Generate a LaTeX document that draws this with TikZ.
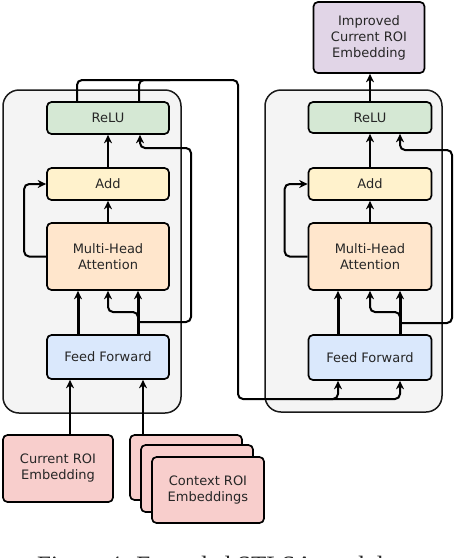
\documentclass[tikz,border=0pt]{standalone}
\usepackage{fontspec}
\setsansfont{DejaVu Sans}
\setmainfont{Liberation Serif}
\usetikzlibrary{arrows.meta}
\definecolor{cbox}{HTML}{F4F4F4}
\definecolor{cgreen}{HTML}{D5E8D4}
\definecolor{cyellow}{HTML}{FFF2CC}
\definecolor{corange}{HTML}{FFE6CC}
\definecolor{cblue}{HTML}{DAE8FC}
\definecolor{cred}{HTML}{F8CECC}
\definecolor{cpurple}{HTML}{E1D5E7}
\tikzset{
  blk/.style={draw=black, line width=1.7pt, rounded corners=4.5pt, align=center,
    font=\sffamily\fontsize{13}{16}\selectfont, text=black!85, inner sep=0pt},
  cont/.style={draw=black!90, fill=cbox, line width=1.5pt, rounded corners=16pt, inner sep=0pt},
  wire/.style={draw=black, line width=2pt, rounded corners=5pt},
  thick wire/.style={wire, line width=3pt},
  arr/.style={-{Stealth[length=8.5pt,width=8pt]}},
}
\begin{document}
\begin{tikzpicture}[x=1pt,y=-1pt]
\useasboundingbox (0,0) rectangle (454,558);
% containers
\node[cont, minimum width=178pt, minimum height=323pt] (contL) at (92,251.5) {};
\node[cont, minimum width=177pt, minimum height=322pt] (contR) at (353.5,251) {};
% left blocks
\node[blk, fill=cgreen,  minimum width=122pt, minimum height=32pt] (reluL) at (108,118) {ReLU};
\node[blk, fill=cyellow, minimum width=122pt, minimum height=32pt] (addL) at (108,184) {Add};
\node[blk, fill=corange, minimum width=122pt, minimum height=67pt] (mhaL) at (108,256.5) {Multi-Head\\Attention};
\node[blk, fill=cblue,   minimum width=122pt, minimum height=44pt] (ffL) at (108,357) {Feed Forward};
% right blocks
\node[blk, fill=cgreen,  minimum width=123pt, minimum height=31pt] (reluR) at (370,117.5) {ReLU};
\node[blk, fill=cyellow, minimum width=123pt, minimum height=32pt] (addR) at (370,184) {Add};
\node[blk, fill=corange, minimum width=123pt, minimum height=67pt] (mhaR) at (370,256.5) {Multi-Head\\Attention};
\node[blk, fill=cblue,   minimum width=123pt, minimum height=45pt] (ffR) at (370,357.5) {Feed Forward};
\node[blk, fill=cpurple, minimum width=111pt, minimum height=71pt] (imp) at (369,37.5) {Improved\\Current ROI\\Embedding};
% inputs
\node[blk, fill=cred, minimum width=110pt, minimum height=67pt] (cur) at (58,468.5) {Current ROI\\Embedding};
\node[blk, fill=cred, minimum width=112pt, minimum height=65pt] (ctx1) at (186,467.5) {};
\node[blk, fill=cred, minimum width=112pt, minimum height=67pt] (ctx2) at (197,478.5) {};
\node[blk, fill=cred, minimum width=112pt, minimum height=66pt] (ctx3) at (208,490) {Context ROI\\Embeddings};
% coordinates
\coordinate (jL) at (138,322);
\coordinate (jR) at (400,323);
\coordinate (busTop) at (238,80);
\coordinate (busBot) at (238,399);
% ---- left block wiring
\draw[wire, arr] (addL.north) -- (reluL.south);
\draw[wire, arr] (mhaL.north) -- (addL.south);
\draw[wire, arr] (mhaL.west) -- ++(-22,0) |- (addL.west);
\draw[thick wire, arr] ([xshift=-30]ffL.north) -- ([xshift=-30]mhaL.south);
\draw[thick wire, arr] ([xshift=30]ffL.north) -- ([xshift=30]mhaL.south);
\draw[wire, arr] (jL) |- (108,312) -- (mhaL.south);
\draw[wire, arr] (jL) -| (191,148) -| ([xshift=32]reluL.south);
\draw[wire, arr] ([xshift=12]cur.north) -- ([xshift=12]cur.north |- ffL.south);
\draw[wire, arr] ([xshift=-43]ctx1.north) -- ([xshift=-43]ctx1.north |- ffL.south);
% ---- bridge
\draw[wire] ([xshift=31]reluL.north) |- (170,80);
\draw[wire, arr] ([xshift=-31]reluL.north) |- (busTop) -- (busBot) -| ([xshift=-32]ffR.south);
\draw[wire, arr] (300,399) -| ([xshift=30]ffR.south);
% ---- right block wiring
\draw[wire, arr] (reluR.north) -- (reluR.north |- imp.south);
\draw[wire, arr] (addR.north) -- (reluR.south);
\draw[wire, arr] (mhaR.north) -- (addR.south);
\draw[wire, arr] (mhaR.west) -- ++(-23,0) |- (addR.west);
\draw[thick wire, arr] ([xshift=-32]ffR.north) -- ([xshift=-32]mhaR.south);
\draw[thick wire, arr] ([xshift=30]ffR.north) -- ([xshift=30]mhaR.south);
\draw[wire, arr] (jR) |- (370,312) -- (mhaR.south);
\draw[wire, arr] (jR) -| (452,150) -| ([xshift=30]reluR.south);
% caption (cut off at the lower edge, as in the reference)
\begin{scope}
\clip (0,0) rectangle (454,558);
\node[anchor=base, font=\rmfamily\fontsize{25}{30}\selectfont, text=black!85, inner sep=0] (cap) at (216,573) {Figure 4: Extended STLSA module};
\end{scope}
\end{tikzpicture}
\end{document}
